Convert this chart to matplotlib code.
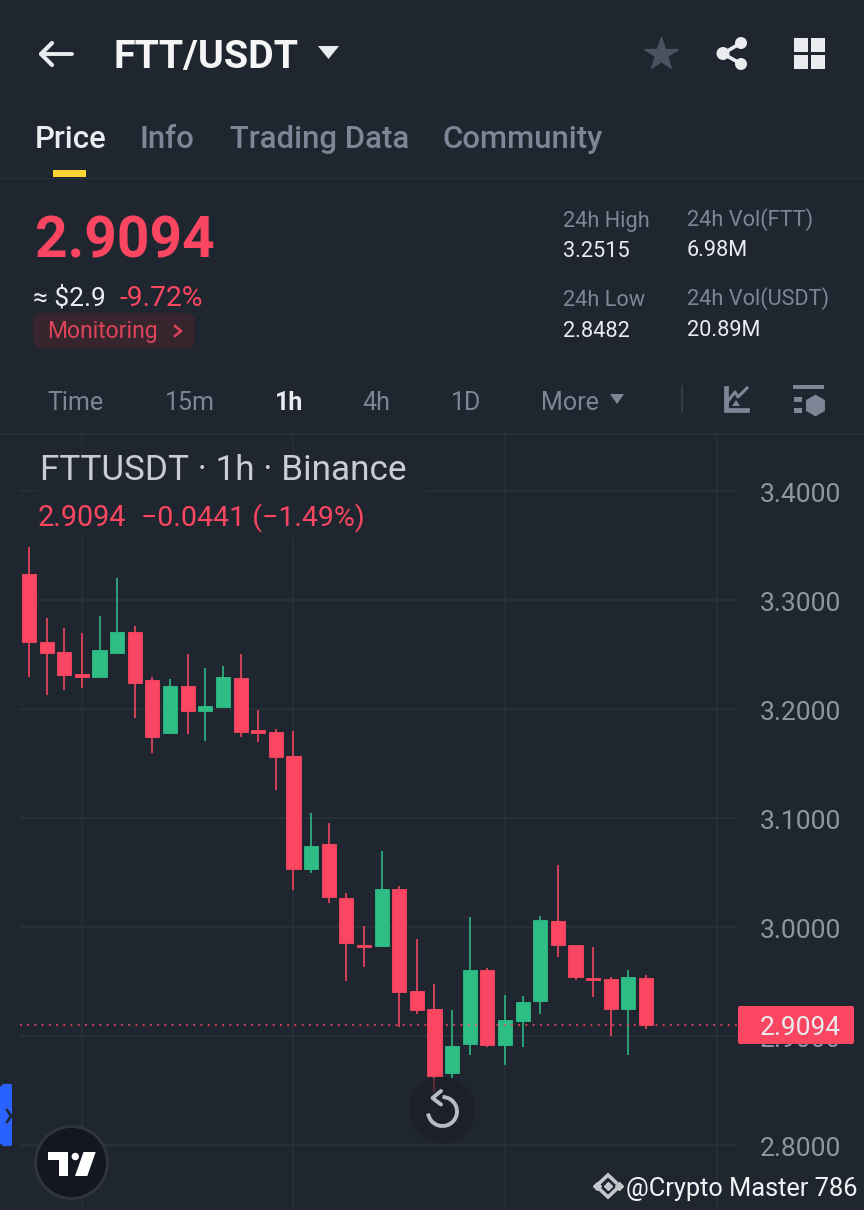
import numpy as np
import matplotlib
matplotlib.use("Agg")
import matplotlib.pyplot as plt
from matplotlib.patches import Circle, FancyBboxPatch, Polygon, Rectangle, Arc
from matplotlib.transforms import ScaledTranslation

plt.rcParams['font.family'] = ['Roboto', 'DejaVu Sans']

# candle values, colour comes from open vs close
opens = [3.3242, 3.2618, 3.2521, 3.2319, 3.2291, 3.2517, 3.2704, 3.2264, 3.1777, 3.2214, 3.1982, 3.2018,
         3.2282, 3.1804, 3.1786, 3.1566, 3.0528, 3.0760, 3.0262, 2.9830, 2.9824, 3.0347, 2.9410, 2.9248,
         2.8655, 2.8921, 2.9606, 2.8917, 2.9138, 2.9316, 3.0053, 2.9836, 2.9533, 2.9518, 2.9248, 2.9533]
closes = [3.2612, 3.2517, 3.2312, 3.2294, 3.2539, 3.2704, 3.2239, 3.1746, 3.2214, 3.1982, 3.2025, 3.2294,
          3.1789, 3.1782, 3.1562, 3.0528, 3.0745, 3.0271, 2.9851, 2.9817, 3.0347, 2.9404, 2.9236, 2.8633,
          2.8903, 2.9606, 2.8917, 2.9141, 2.9312, 3.0062, 2.9833, 2.9536, 2.9514, 2.9248, 2.9539, 2.9094]
highs = [3.3485, 3.2838, 3.2741, 3.2695, 3.2851, 3.3206, 3.2765, 3.2294, 3.2273, 3.2508, 3.2374, 3.2398,
         3.2508, 3.1988, 3.1816, 3.1795, 3.1042, 3.0950, 3.0308, 3.0005, 3.0696, 3.0372, 2.9885, 2.9472,
         2.9233, 3.0090, 2.9619, 2.9371, 2.9362, 3.0096, 3.0567, 2.9836, 2.9812, 2.9536, 2.9601, 2.9555]
lows = [3.2291, 3.2129, 3.2174, 3.2190, 3.2291, 3.2517, 3.1920, 3.1599, 3.1770, 3.1770, 3.1709, 3.2018,
        3.1746, 3.1697, 3.1256, 3.0338, 3.0497, 3.0221, 2.9500, 2.9631, 2.9824, 2.9083, 2.9199, 2.8482,
        2.8612, 2.8823, 2.8899, 2.8728, 2.8899, 2.9199, 2.9720, 2.9511, 2.9353, 2.9000, 2.8823, 2.9064]

last_price = 2.9094
price_ticks = [3.4, 3.3, 3.2, 3.1, 3.0, 2.9, 2.8]
time_grid = [3, 15, 27, 39]

BG = '#1f2630'
GRID = '#2a303a'
RED = '#fa4660'
GREEN = '#2ebd85'
WHITE = '#eaecef'
GREY = '#7d8696'
AXIS_GREY = '#8f96a1'
LOGO = '#c4c7cc'

W, H = 864, 1210
fig = plt.figure(figsize=(W / 100, H / 100), dpi=100, facecolor=BG)


def px_rect(x0, y0, x1, y1):
    return [x0 / W, 1 - y1 / H, (x1 - x0) / W, (y1 - y0) / H]


# chart area, y 434..1210 px
ax = fig.add_axes(px_rect(0, 434, W, H), facecolor=BG, zorder=1)
slot = 17.63
x_first = 29
ax.set_xlim((0 - x_first) / slot, (W - x_first) / slot)
ax.set_ylim(2.9 - (1210 - 1035.7) / 1089, 2.9 + (1035.7 - 434) / 1089)
for s in ax.spines.values():
    s.set_visible(False)

idx = np.arange(len(opens))
opens = np.array(opens)
closes = np.array(closes)
colors = [GREEN if c > o else RED for o, c in zip(opens, closes)]

ax.set_xticks(time_grid)
ax.set_xticklabels([])
ax.tick_params(axis='x', length=0)
ax.grid(axis='x', color=GRID, lw=1.1, zorder=0)

left_i = (20 - x_first) / slot
right_i = (737 - x_first) / slot
ax.hlines(price_ticks, left_i, right_i, color=GRID, lw=1.3, zorder=0.5)

ax.yaxis.tick_right()
ax.set_yticks(price_ticks)
ax.set_yticklabels([f'{p:.4f}' for p in price_ticks], color=AXIS_GREY, fontsize=19, va='center_baseline')
ax.tick_params(axis='y', length=0, pad=-75)
# labels sit a touch low in the app
nudge = ScaledTranslation(0, -1.5 / 100, fig.dpi_scale_trans)
for t in ax.get_yticklabels():
    t.set_transform(t.get_transform() + nudge)

ax.vlines(idx, lows, highs, color=colors, lw=1.15, zorder=2)
ax.bar(idx, np.abs(closes - opens), bottom=np.minimum(opens, closes), width=0.8,
       color=colors, edgecolor=colors, linewidth=0.6, zorder=3)
ax.hlines(last_price, left_i, right_i, color=RED, lw=1.3, linestyle=(0, (1, 3)), zorder=4, alpha=0.9)

# everything around the chart is drawn in pixel coordinates
ui = fig.add_axes([0, 0, 1, 1], facecolor='none', zorder=2)
ui.set_xlim(0, W)
ui.set_ylim(H, 0)
ui.axis('off')


def label(x, y, s, size, color=WHITE, weight='normal', ha='left'):
    ui.text(x, y, s, fontsize=size, color=color, fontweight=weight, ha=ha, va='baseline')


# header
ui.plot([41, 72], [54, 54], color=WHITE, lw=2.8, solid_capstyle='round')
ui.plot([52, 41, 52], [43, 54, 65], color=WHITE, lw=3, solid_capstyle='round', solid_joinstyle='round')
label(114, 68, 'FTT/USDT', 28.4, '#f5f5f5', 'bold')
ui.add_patch(Polygon([(318, 46), (339, 46), (328.5, 59)], closed=True, color=WHITE, lw=0))

ui.plot([661], [54], marker='*', ms=25, color='#4a5262', mec='#4a5262', ls='none')
share = [(741, 43), (723, 53.5), (741, 64)]
ui.plot([p[0] for p in share], [p[1] for p in share], color=WHITE, lw=2.6)
for (sx, sy), r in zip(share, [6, 6.5, 6]):
    ui.add_patch(Circle((sx, sy), r, color=WHITE, lw=0))
for gx in (794, 811):
    for gy in (38, 55):
        ui.add_patch(Rectangle((gx, gy), 13.5, 13.5, color=WHITE, lw=0))

# tabs
label(35, 148, 'Price', 22.4, WHITE, 'medium')
label(139, 148, 'Info', 22.4, GREY, 'medium')
label(230, 148, 'Trading Data', 22.4, GREY, 'medium')
label(443, 148, 'Community', 22.4, GREY, 'medium')
ui.add_patch(Rectangle((53, 170), 33, 7, color='#fcd535', lw=0))
ui.plot([0, W], [177.5, 177.5], color=GRID, lw=1)

# price block
label(35, 258, '2.9094', 41, RED, 'bold')
label(33, 306, '≈ $2.9', 19, WHITE)
label(119, 306, '-9.72%', 20.3, RED)
ui.add_patch(FancyBboxPatch((38.5, 318.5), 151, 24, boxstyle='round,pad=0,rounding_size=2', lw=8,
                            color='#37252e', joinstyle='round'))
label(47, 338, 'Monitoring', 16.5, '#dd4359')
ui.plot([175, 181, 175], [326, 331, 336], color='#dd4359', lw=1.8)

label(563, 227, '24h High', 15.7, GREY)
label(563, 257, '3.2515', 15.7, WHITE)
label(563, 306, '24h Low', 15.7, GREY)
label(563, 337, '2.8482', 15.7, WHITE)
label(687, 225.5, '24h Vol(FTT)', 15.7, GREY)
label(687, 256.5, '6.98M', 15.7, WHITE)
label(687, 305, '24h Vol(USDT)', 15.7, GREY)
label(687, 336.5, '20.89M', 15.7, WHITE)

# interval row
label(47, 410, 'Time', 18, GREY)
label(165, 410, '15m', 18, GREY)
label(275, 410, '1h', 18, WHITE, 'bold')
label(362, 410, '4h', 18, GREY)
label(451, 410, '1D', 18, GREY)
label(541, 410, 'More', 18, GREY)
ui.add_patch(Polygon([(610, 394), (624, 394), (617, 404)], closed=True, color=GREY, lw=0))
ui.plot([682, 682], [386, 412], color='#3a414c', lw=1.2)
ui.plot([726, 726, 747], [388, 409.5, 409.5], color=GREY, lw=3.4, solid_joinstyle='miter')
ui.plot([728, 735, 738, 747], [401, 392, 397, 388], color=GREY, lw=2.2)
ui.add_patch(Polygon([(732, 406), (740, 406), (736, 400)], closed=True, color=GREY, lw=0))
ui.add_patch(Rectangle((793, 384.5), 31, 4.5, color=GREY, lw=0))
ui.add_patch(Rectangle((794, 397), 8, 4.5, color=GREY, lw=0))
ui.add_patch(Rectangle((794, 408), 8, 4.5, color=GREY, lw=0))
ui.plot([815], [405], marker='h', ms=14.5, color=GREY, mec=GREY, ls='none')
ui.add_patch(Circle((815, 405), 4, color=BG, lw=0))
ui.plot([0, W], [433.5, 433.5], color=GRID, lw=1.2)

# legend text over the chart, grid is dimmed behind it
ui.add_patch(Rectangle((33, 445), 397, 93, color=BG, alpha=0.55, lw=0))
label(40, 480, 'FTTUSDT · 1h · Binance', 25.3, '#c9ccd3')
label(38, 526, '2.9094', 20.7, RED)
label(141, 526, '−0.0441 (−1.49%)', 20.5, RED)

# last price box
ui.add_patch(FancyBboxPatch((738, 1006), 116, 38, boxstyle='round,pad=0,rounding_size=2', lw=0, color=RED))
label(760, 1035, '2.9094', 19, WHITE)

# floating buttons
ui.add_patch(Circle((442, 1110), 33, color='#191d25', alpha=0.6, lw=0))
ui.add_patch(Arc((442.5, 1111.5), 29, 29, theta1=-90, theta2=172, color='#b7bcc6', lw=2.8))
ui.plot([441, 432.5, 441], [1091, 1098, 1104.5], color='#b7bcc6', lw=2.8, solid_capstyle='round')

ui.add_patch(FancyBboxPatch((3, 1088), 8, 54, boxstyle='round,pad=0,rounding_size=3', lw=6, color='#2962ff'))
ui.add_patch(Rectangle((11.5, 1084), 4, 62, color=BG, lw=0))
ui.plot([7, 11, 7], [1110, 1116, 1122], color='#1f2630', lw=1.8)

ui.add_patch(Circle((71.5, 1162.5), 36, facecolor='#131722', edgecolor='#2f3540', lw=2))
ui.add_patch(Polygon([(48.3, 1152), (68.3, 1152), (68.3, 1176), (59.3, 1176), (59.3, 1159.5), (48.3, 1159.5)],
                     closed=True, color='white', lw=0))
ui.add_patch(Circle((75.3, 1156.5), 3.7, color='white', lw=0))
ui.add_patch(Polygon([(83.5, 1152), (95.7, 1152), (87.3, 1176), (75, 1176)], closed=True, color='white', lw=0))

# watermark
ui.plot([600, 608, 616], [1182.5, 1175, 1182.5], color=LOGO, lw=2.6, solid_joinstyle='miter')
ui.plot([600, 608, 616], [1189.5, 1197, 1189.5], color=LOGO, lw=2.6, solid_joinstyle='miter')
ui.plot([597, 608, 619], [1186, 1186, 1186], marker='D', ms=3.8, color=LOGO, ls='none')
label(626, 1196, '@Crypto Master 786', 18.3, '#f2f3f5')

fig.savefig('out.png', dpi=100, facecolor=BG)
